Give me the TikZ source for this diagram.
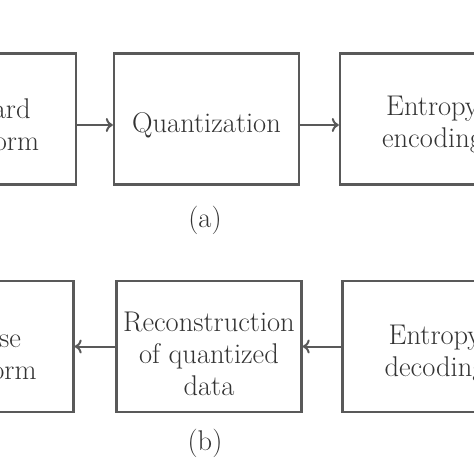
\documentclass[tikz,border=0pt]{standalone}
\usepackage{amsmath}
\usetikzlibrary{calc, positioning, arrows.meta}

\begin{document}
\begin{tikzpicture}[x = 1pt, y = -1pt,
        block/.style = {draw = black!65, line width = 2.4pt, minimum width = 185pt, minimum height = 131pt},
        word/.style = {text = black!80, align = center, font = \fontsize{28.5}{32}\selectfont},
        conn/.style = {draw = black!65, line width = 2pt, -{To[length = 7pt, width = 14pt]}},
        caption/.style = {text = black!80, font = \fontsize{28.5}{32}\selectfont}]
            \useasboundingbox (0, 0) rectangle (474, 474);
            \clip (0, 0) rectangle (474, 474);

            % (a) coder
            \node[block] (fwd) at (-16.5, 119) {};
            \node[block] (quant) at (206.5, 119) {};
            \node[block] (enc) at (432.5, 119) {};

            \node[word] (fwdtext) at ($(fwd) + (0, 6)$) {Forward\\transform};
            \node[word] (quanttext) at ($(quant) + (0, 6)$) {Quantization};
            \node[word] (enctext) at ($(enc) + (0, 6)$) {Entropy\\encoding};

            \draw[conn]([yshift = -6pt]fwd.east) -- ([yshift = -6pt]quant.west);
            \draw[conn]([yshift = -6pt]quant.east) -- ([yshift = -6pt]enc.west);

            \node[caption] (capa) at (205, 220) {(a)};

            % (b) decoder
            \node[block] (inv) at (-19, 346.5) {};
            \node[block] (recon) at (209, 346.5) {};
            \node[block] (dec) at (435, 346.5) {};

            \node[word] (invtext) at ($(inv) + (0, 7)$) {Inverse\\transform};
            \node[word] (recontext) at ($(recon) + (0, 7)$) {Reconstruction\\of quantized\\data};
            \node[word] (dectext) at ($(dec) + (0, 7)$) {Entropy\\decoding};

            \draw[conn](dec.west) -- (recon.east);
            \draw[conn](recon.west) -- (inv.east);

            \node[caption] (capb) at (205, 443) {(b)};
        \end{tikzpicture}
\end{document}
